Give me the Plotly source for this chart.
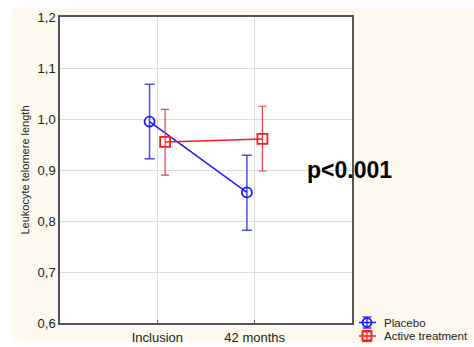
import plotly.graph_objects as go

categories = ["Inclusion", "42 months"]
placebo_mean = [0.995, 0.856]
placebo_upper = [1.068, 0.929]
placebo_lower = [0.922, 0.782]
active_mean = [0.955, 0.961]
active_upper = [1.019, 1.025]
active_lower = [0.890, 0.898]
y_ticks = [0.6, 0.7, 0.8, 0.9, 1.0, 1.1, 1.2]
series_names = ["Placebo", "Active treatment"]
series_colors = ["#1a1aff", "#ff1a1a"]

W, H = 474, 347
ML, MR, MT, MB = 60, 122, 17, 24
PW, PH = W - ML - MR, H - MT - MB


def px(x):
    return (x - ML) / PW


def py(y):
    return (H - MB - y) / PH


xpos = list(range(len(categories)))
off = 0.08

fig = go.Figure()
fig.add_trace(go.Scatter(
    x=[p - off for p in xpos], y=placebo_mean, name=series_names[0],
    mode="lines+markers", showlegend=False,
    line=dict(color=series_colors[0], width=1.5),
    marker=dict(symbol="circle-open", size=10, color=series_colors[0], line=dict(width=1.8)),
    error_y=dict(type="data", symmetric=False,
                 array=[u - m for u, m in zip(placebo_upper, placebo_mean)],
                 arrayminus=[m - l for m, l in zip(placebo_mean, placebo_lower)],
                 color="#4d4de6", thickness=1.5, width=5),
))
fig.add_trace(go.Scatter(
    x=[p + off for p in xpos], y=active_mean, name=series_names[1],
    mode="lines+markers", showlegend=False,
    line=dict(color=series_colors[1], width=1.5),
    marker=dict(symbol="square-open", size=10, color=series_colors[1], line=dict(width=1.8)),
    error_y=dict(type="data", symmetric=False,
                 array=[u - m for u, m in zip(active_upper, active_mean)],
                 arrayminus=[m - l for m, l in zip(active_mean, active_lower)],
                 color="#f04040", thickness=1.2, width=4),
))

fig.add_annotation(text="p<0.001", x=px(349), y=0.90, xref="paper", yref="y",
                   xanchor="center", yanchor="middle", showarrow=False,
                   font=dict(family="Liberation Sans, Arial", size=23, color="#000", weight="bold"))

shapes = [
    dict(type="rect", xref="paper", yref="paper", x0=px(12), x1=px(480), y0=py(343), y1=py(7),
         fillcolor="#fdf9ee", line=dict(width=0), layer="below"),
    dict(type="rect", xref="paper", yref="paper", x0=0, x1=1, y0=0, y1=1,
         fillcolor="white", line=dict(width=0), layer="below"),
]

# manual legend
leg_y = [322.5, 336]
cx = 367
for i, (name, col) in enumerate(zip(series_names, series_colors)):
    yc = leg_y[i]
    shapes.append(dict(type="line", xref="paper", yref="paper", x0=px(359), x1=px(376),
                       y0=py(yc), y1=py(yc), line=dict(color=col, width=1.5)))
    shapes.append(dict(type="line", xref="paper", yref="paper", x0=px(cx), x1=px(cx),
                       y0=py(yc - 5.5), y1=py(yc + 5.5), line=dict(color=col, width=1.2)))
    for yy in (yc - 5.5, yc + 5.5):
        shapes.append(dict(type="line", xref="paper", yref="paper", x0=px(cx - 4.5), x1=px(cx + 4.5),
                           y0=py(yy), y1=py(yy), line=dict(color=col, width=1.2)))
    shapes.append(dict(type="circle" if i == 0 else "rect", xref="paper", yref="paper",
                       x0=px(cx - 4.5), x1=px(cx + 4.5), y0=py(yc + 4.5), y1=py(yc - 4.5),
                       line=dict(color=col, width=1.8), fillcolor="rgba(0,0,0,0)"))
    fig.add_annotation(text=name, x=px(382), y=py(yc), xref="paper", yref="paper",
                       xanchor="left", yanchor="middle", showarrow=False,
                       font=dict(family="Liberation Sans, Arial", size=11.5, color="#222"))

fig.update_layout(
    width=W, height=H,
    margin=dict(l=ML, r=MR, t=MT, b=MB),
    paper_bgcolor="white", plot_bgcolor="white",
    separators=",.",
    font=dict(family="Liberation Sans, Arial", size=13, color="#222"),
    showlegend=False,
    shapes=shapes,
    xaxis=dict(range=[-1, 2], tickvals=xpos, ticktext=categories, automargin=False,
               showgrid=True, gridcolor="#dcdcdc", gridwidth=1,
               showline=True, linecolor="#555", linewidth=1.5, mirror=True,
               ticks="inside", ticklen=3, tickcolor="#555", zeroline=False,
               ticklabelstandoff=2),
    yaxis=dict(range=[0.6, 1.2], tickvals=y_ticks, tickformat=".1f", automargin=False,
               showgrid=True, gridcolor="#dcdcdc", gridwidth=1,
               showline=True, linecolor="#555", linewidth=1.5, mirror=True,
               ticks="", zeroline=False,
               title=dict(text="Leukocyte telomere length", font=dict(size=11), standoff=6)),
)

fig.write_html("out.html")
